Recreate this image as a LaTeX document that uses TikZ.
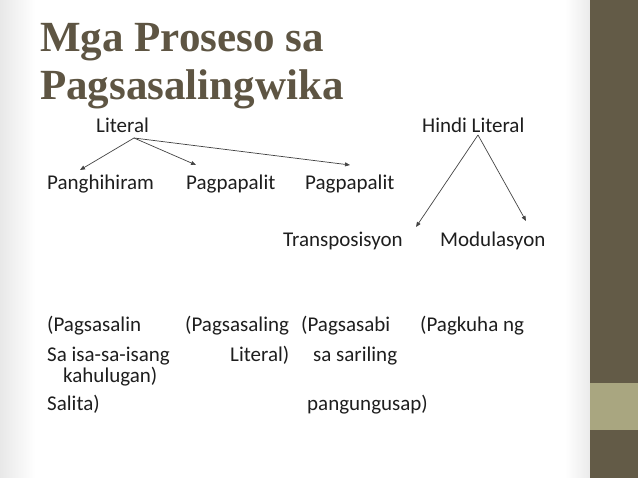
\documentclass[tikz,border=0pt]{standalone}
\usepackage{fontspec}
\setmainfont{Carlito}
\newfontfamily\titlefont{Liberation Serif}
\usetikzlibrary{arrows.meta}
\definecolor{barcol}{HTML}{635B47}
\definecolor{tancol}{HTML}{A9A680}
\definecolor{titlecol}{HTML}{5E5543}
\definecolor{txtcol}{HTML}{1E1E1E}
\definecolor{arrcol}{HTML}{444444}
\tikzset{
  lbl/.style={anchor=base west, inner sep=0pt, text=txtcol, font=\fontsize{21}{25}\selectfont},
  ttl/.style={anchor=base west, inner sep=0pt, text=titlecol, font=\titlefont\bfseries\fontsize{43}{48}\selectfont},
  conn/.style={draw=arrcol, line width=0.7pt, -{Triangle[length=5pt,width=4pt]}}
}
\begin{document}
\begin{tikzpicture}[x=1pt,y=-1pt]
\useasboundingbox (0,0) rectangle (638,478);
\fill[white] (0,0) rectangle (638,478);
\shade[left color=black!9, right color=white] (0,0) rectangle (35,478);
\shade[left color=white, right color=black!8] (565,0) rectangle (590,478);
\fill[barcol] (590,0) rectangle (638,478);
\fill[tancol] (590,383) rectangle (638,430);
% title
\node[ttl] (t1) at (40,52) {Mga Proseso sa};
\node[ttl] (t2) at (40,100) {Pagsasalingwika};
% tree labels
\node[lbl] (lit) at (96,133) {Literal};
\node[lbl] (hlit) at (422,133) {Hindi Literal};
\node[lbl] (pang) at (47,190) {Panghihiram};
\node[lbl] (pag1) at (186,190) {Pagpapalit};
\node[lbl] (pag2) at (305,190) {Pagpapalit};
\node[lbl] (trans) at (283,247) {Transposisyon};
\node[lbl] (mod) at (440,247) {Modulasyon};
% connector points
\coordinate (litS) at (134,138);
\coordinate (hlitS) at (478,135);
\coordinate (pangN) at (80,170);
\coordinate (pag1N) at (196,165);
\coordinate (pag2N) at (350,165);
\coordinate (transN) at (416,227);
\coordinate (modN) at (526,221);
\draw[conn] (litS) -- (pangN);
\draw[conn] (litS) -- (pag1N);
\draw[conn] (litS) -- (pag2N);
\draw[conn] (hlitS) -- (transN);
\draw[conn] (hlitS) -- (modN);
% descriptions
\node[lbl] (d1) at (47,332) {(Pagsasalin};
\node[lbl] (d2) at (185,332) {(Pagsasaling};
\node[lbl] (d3) at (301,332) {(Pagsasabi};
\node[lbl] (d4) at (420,332) {(Pagkuha ng};
\node[lbl] (e1) at (47,362) {Sa isa-sa-isang};
\node[lbl] (e2) at (230,362) {Literal)};
\node[lbl] (e3) at (313,362) {sa sariling};
\node[lbl] (f1) at (63,383) {kahulugan)};
\node[lbl] (g1) at (47,411) {Salita)};
\node[lbl] (g3) at (307,411) {pangungusap)};
\end{tikzpicture}
\end{document}
